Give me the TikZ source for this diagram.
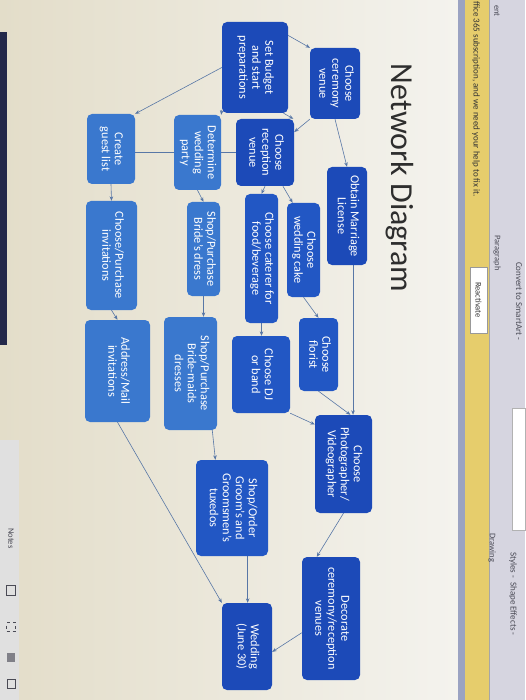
\documentclass[tikz,border=0pt]{standalone}
\usepackage{fontspec}
\setmainfont{Carlito}
\newfontfamily\symfont{DejaVu Sans}
\usepackage{graphicx}
\usetikzlibrary{arrows.meta,backgrounds,calc}
\definecolor{nodedark}{HTML}{1C4AB8}
\definecolor{nodemid}{HTML}{2257C4}
\definecolor{nodelight}{HTML}{3A78CE}
\definecolor{edgecol}{HTML}{5877A6}
\definecolor{pageL}{HTML}{E3DDC9}
\definecolor{pageR}{HTML}{F4F3EE}
\definecolor{barblue}{HTML}{9BA3C2}
\definecolor{baryellow}{HTML}{E6CD6C}
\definecolor{ribbon}{HTML}{D6D5E0}
\definecolor{titlegrey}{HTML}{2E2E2E}
\definecolor{uitext}{HTML}{4A4A55}
\definecolor{navy}{HTML}{23284A}
\newcommand{\vtext}[1]{\rotatebox{-90}{\begin{tabular}{@{}c@{}}#1\end{tabular}}}
\tikzset{
  box/.style={rounded corners=5pt, inner sep=0pt, text=white,
    font=\fontsize{12.3}{13}\selectfont},
  boxdark/.style={box, fill=nodedark},
  boxmid/.style={box, fill=nodemid},
  boxlight/.style={box, fill=nodelight},
  link/.style={draw=edgecol, line width=0.6pt, -{Stealth[length=4.5pt,width=3.6pt]}},
  plainlink/.style={draw=edgecol, line width=0.6pt},
  uilabel/.style={rotate=-90, text=uitext, inner sep=0pt, font=\fontsize{8.5}{9}\selectfont},
}
\begin{document}
\begin{tikzpicture}[x=1pt,y=-1pt]
\useasboundingbox (0,0) rectangle (525,700);
\begin{pgfonlayer}{background}
  % photo / page background
  \shade[left color=pageL, right color=pageR] (0,0) rectangle (458,700);
  \fill[navy] (0,32) rectangle (7,345);
  \fill[black!12] (0,440) rectangle (19,700);
  % right side application bars
  \fill[barblue] (458,0) rectangle (465,700);
  \fill[baryellow] (465,0) rectangle (489,700);
  \fill[ribbon] (489,0) rectangle (525,700);
  \draw[black!35, line width=0.5pt] (489,0) -- (489,700);
  \fill[white, draw=black!30] (512,408) rectangle (525,530);
\end{pgfonlayer}

% status bar text
\node[uilabel, anchor=west] (notes) at (11,528) {Notes};
\node[draw=uitext, line width=0.5pt, minimum width=9pt, minimum height=10pt, inner sep=0pt] (view1) at (11,590) {};
\node[draw=uitext, line width=0.5pt, minimum width=9pt, minimum height=9pt, inner sep=0pt, dashed] (view2) at (11,627) {};
\node[fill=uitext!70, minimum width=8pt, minimum height=9pt, inner sep=0pt] (view3) at (11,657) {};
\node[draw=uitext, line width=0.5pt, minimum width=8pt, minimum height=9pt, inner sep=0pt] (view4) at (11,684) {};

% application UI text
\node[uilabel, anchor=west, text=black!80, font=\fontsize{9}{9}\selectfont] (warn) at (476,1) {ffice 365 subscription, and we need your help to fix it.};
\node[rotate=-90, draw=black!40, fill=white, minimum width=66pt, minimum height=17pt, inner sep=0pt, font=\fontsize{8.5}{9}\selectfont, text=black!80] (react) at (478.5,300) {Reactivate};
\node[uilabel] (font) at (497,11) {ent};
\node[uilabel] (para) at (497,253) {Paragraph};
\node[uilabel, anchor=west, font=\fontsize{9}{9}\selectfont] (smart) at (519,262) {Convert to SmartArt -};
\node[uilabel] (drawing) at (492,548) {Drawing};
\node[uilabel, anchor=west, font=\fontsize{9}{9}\selectfont] (styles) at (513,552) {Styles -\ \ Shape Effects -};

% title
\node[rotate=-90, text=titlegrey, inner sep=0pt, font=\fontsize{32}{32}\selectfont] (title) at (400,178) {Network Diagram};

% nodes
\node[boxdark, minimum width=66pt, minimum height=91pt] (budget) at (255,67.5) {\vtext{Set Budget\\and start\\preparations}};
\node[boxdark, minimum width=50pt, minimum height=71pt] (ceremony) at (335,83.5) {\vtext{Choose\\ceremony\\venue}};
\node[boxlight, minimum width=48pt, minimum height=70pt] (guest) at (111,149) {\vtext{Create\\guest list}};
\node[boxlight, minimum width=47pt, minimum height=75pt] (party) at (197.5,152.5) {\vtext{Determine\\wedding\\party}};
\node[boxdark, minimum width=58pt, minimum height=67pt] (reception) at (265,152.5) {\vtext{Choose\\reception\\venue}};
\node[boxdark, minimum width=40pt, minimum height=98pt] (license) at (347,216) {\vtext{Obtain Marriage\\License}};
\node[boxlight, minimum width=51pt, minimum height=109pt] (invit) at (111.5,255.5) {\vtext{Choose/Purchase\\invitations}};
\node[boxlight, minimum width=33pt, minimum height=94pt] (dress) at (203.5,249) {\vtext{Shop/Purchase\\Bride's dress}};
\node[boxmid, minimum width=33pt, minimum height=129pt] (caterer) at (261.5,258.5) {\vtext{Choose caterer for\\food/beverage}};
\node[boxmid, minimum width=33pt, minimum height=94pt] (cake) at (303.5,250) {\vtext{Choose\\wedding cake}};
\node[boxmid, minimum width=39pt, minimum height=73pt] (florist) at (318.5,354.5) {\vtext{Choose\\florist}};
\node[boxmid, minimum width=58pt, minimum height=77pt] (dj) at (261,374.5) {\vtext{Choose DJ\\or band}};
\node[boxlight, minimum width=53pt, minimum height=113pt] (maids) at (190.5,373.5) {\vtext{Shop/Purchase\\Bride-maids\\dresses}};
\node[boxlight, minimum width=65pt, minimum height=102pt] (address) at (117.5,371) {\vtext{Address/Mail\\invitations}};
\node[boxdark, minimum width=57pt, minimum height=98pt] (photo) at (343.5,464) {\vtext{Choose\\Photographer/\\Videographer}};
\node[boxmid, minimum width=72pt, minimum height=96pt] (tux) at (232,508) {\vtext{Shop/Order\\Groom's and\\Groomsmen's\\tuxedos}};
\node[boxdark, minimum width=58pt, minimum height=123pt] (decorate) at (331,618.5) {\vtext{Decorate\\ceremony/reception\\venues}};
\node[boxdark, minimum width=50pt, minimum height=87pt] (wedding) at (247,646.5) {\vtext{Wedding\\(June 30)}};

% connectors
\begin{pgfonlayer}{background}
  \draw[link] (budget.44) -- (ceremony.125);
  \draw[link] (budget.west) -- (guest.north east);
  \draw[link] (budget.-128) -- (party.north east);
  \draw[link] (budget.-58) -- (reception.50);
  \draw[link] (ceremony.south west) -- (reception.35);
  \draw[link] (ceremony.south) -- (license.north);
  \draw[link] (reception.south) -- (caterer.north);
  \draw[link] (reception.-62) -- (cake.103);
  \draw[plainlink] (guest.east |- reception.west) -- (reception.west);
  \draw[link] (party.south) -- (dress.north);
  \draw[link] (guest.south) -- (invit.north);
  \draw[link] (invit.south) -- (address.north);
  \draw[link] (dress.south) -- (dress.south |- maids.north);
  \draw[link] (caterer.south) -- (caterer.south |- dj.north);
  \draw[link] (cake.south) -- (florist.north);
  \draw[link] (license.-83) -- (license.-83 |- photo.north);
  \draw[link] (florist.south) -- (photo.82);
  \draw[link] (dj.south east) -- (photo.126);
  \draw[link] (maids.-69) -- (tux.109);
  \draw[link] (address.south) -- (wedding.north west);
  \draw[link] (tux.-72) -- (tux.-72 |- wedding.north);
  \draw[link] (photo.south) -- (decorate.103);
  \draw[link] (decorate.206) -- (wedding.-12);
\end{pgfonlayer}
\end{tikzpicture}
\end{document}
